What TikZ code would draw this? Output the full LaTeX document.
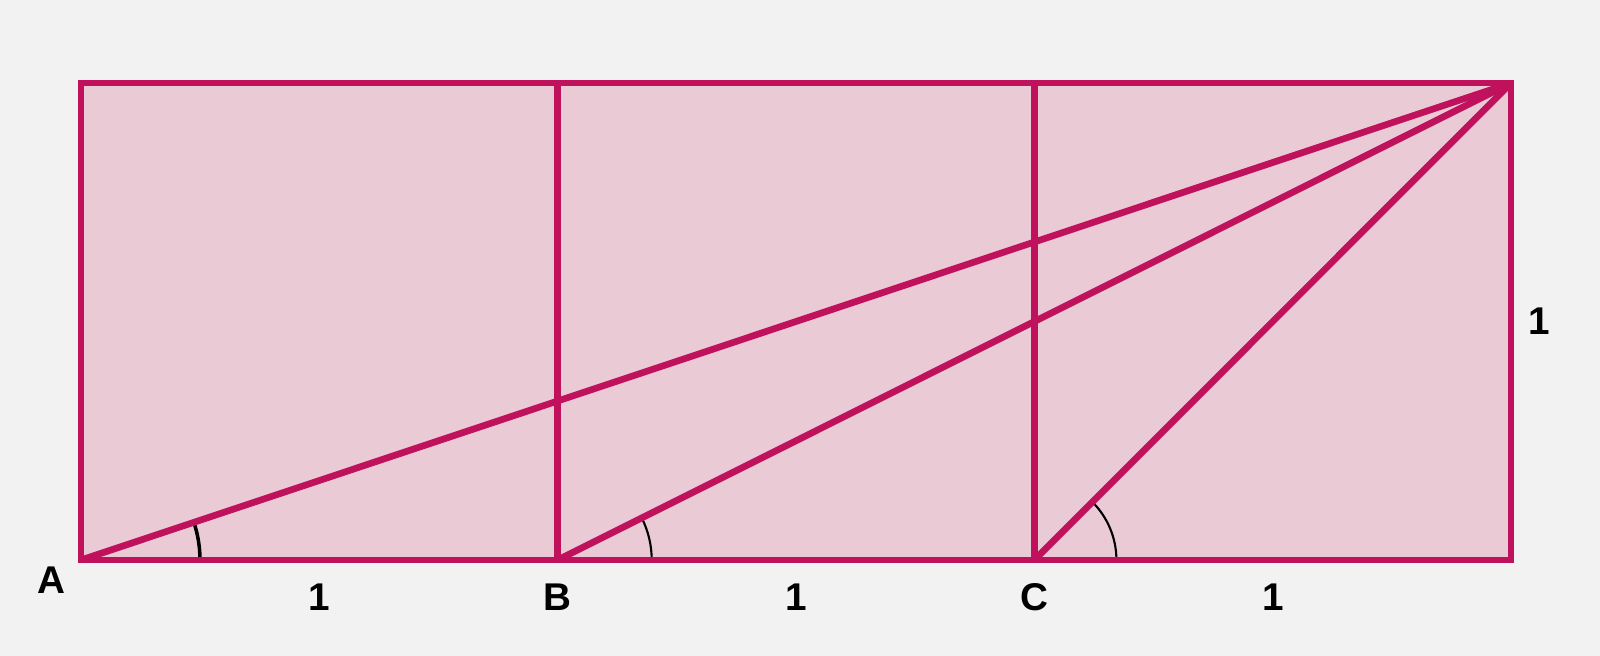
\documentclass[tikz,border=0pt]{standalone}
\usepackage{fontspec}
\setmainfont{Liberation Sans}
\usetikzlibrary{positioning}
\definecolor{paper}{RGB}{242,242,242}
\definecolor{rose}{RGB}{234,203,213}
\definecolor{wine}{RGB}{192,18,92}
\tikzstyle{edge} = [wine,line width=1.9pt,line join=miter]
\tikzstyle{lbl} = [font=\fontsize{11}{13}\selectfont\bfseries,text=black,inner sep=0pt]
\tikzstyle{angarc} = [black,line width=0.6pt]
\begin{document}
\begin{tikzpicture}[x=4.767cm,y=4.77cm]
\fill[paper] (-0.81cm,-0.96cm) rectangle (15.19cm,5.60cm);
\useasboundingbox (-0.81cm,-0.96cm) rectangle (15.19cm,5.60cm);

\coordinate (A) at (0,0);
\coordinate (B) at (1,0);
\coordinate (C) at (2,0);
\coordinate (D) at (3,0);
\coordinate (E) at (3,1);
\coordinate (F) at (0,1);
\coordinate (BT) at (1,1);
\coordinate (CT) at (2,1);

\fill[rose] (A) rectangle (E);

% angle marks
\draw[angarc,line width=1pt] (A) ++(1.19cm,0) arc (0:18.43:1.19cm);
\draw[angarc] (B) ++(0.94cm,0) arc (0:26.57:0.94cm);
\draw[angarc] (C) ++(0.82cm,0) arc (0:45:0.82cm);

\draw[edge] (A) rectangle (E);
\draw[edge] (B) -- (BT) (C) -- (CT);
\foreach \p in {A,B,C}{
\draw[edge] (\p) -- (E);
}

\node[lbl] (lA) at ([xshift=-0.30cm,yshift=-0.20cm]A) {A};
\node[lbl] (lB) at ([yshift=-0.37cm]B) {B};
\node[lbl] (lC) at ([yshift=-0.37cm]C) {C};
\foreach \x/\n in {0.5/1,1.5/2,2.5/3}{
\node[lbl] (one\n) at ([yshift=-0.37cm]\x,0) {1};
}
\node[lbl] (oneR) at ([xshift=0.28cm]3,0.5) {1};
\end{tikzpicture}
\end{document}
